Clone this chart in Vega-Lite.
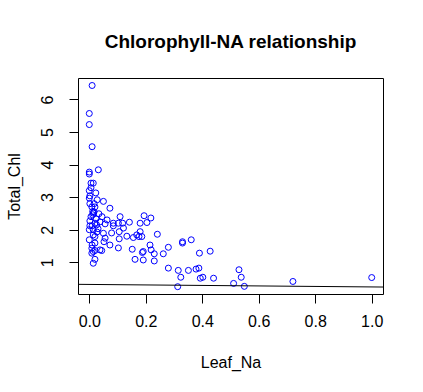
{
  "$schema": "https://vega.github.io/schema/vega-lite/v6.json",
  "width": 305,
  "height": 216,
  "autosize": {"type": "none"},
  "padding": {"left": 78, "top": 78, "right": 40, "bottom": 98},
  "background": "white",
  "config": {
    "font": "Liberation Sans",
    "view": {"stroke": "black", "strokeWidth": 1},
    "axis": {"grid": false, "domain": false, "tickColor": "black", "labelColor": "black", "titleColor": "black", "labelFont": "Liberation Sans", "titleFont": "Liberation Sans", "labelFontSize": 16, "titleFontSize": 16, "titleFontWeight": "normal", "tickSize": 9}
  },
  "title": {"text": "Chlorophyll-NA relationship", "fontSize": 19, "fontWeight": "bold", "font": "Liberation Sans", "color": "black", "offset": 26, "anchor": "middle"},
  "layer": [
    {
      "data": {"values": [
        {"Leaf_Na": 0.01, "Total_Chl": 6.43}, {"Leaf_Na": 0.0, "Total_Chl": 5.57}, {"Leaf_Na": 0.0, "Total_Chl": 5.23}, {"Leaf_Na": 0.01, "Total_Chl": 4.55},
        {"Leaf_Na": 0.032, "Total_Chl": 3.84}, {"Leaf_Na": 0.0, "Total_Chl": 3.77}, {"Leaf_Na": 0.0, "Total_Chl": 3.71}, {"Leaf_Na": 0.006, "Total_Chl": 3.43},
        {"Leaf_Na": 0.014, "Total_Chl": 3.43}, {"Leaf_Na": 0.023, "Total_Chl": 3.13}, {"Leaf_Na": 0.0, "Total_Chl": 3.2}, {"Leaf_Na": 0.0, "Total_Chl": 2.97},
        {"Leaf_Na": 0.028, "Total_Chl": 2.92}, {"Leaf_Na": 0.05, "Total_Chl": 2.87}, {"Leaf_Na": 0.002, "Total_Chl": 2.8}, {"Leaf_Na": 0.009, "Total_Chl": 2.7},
        {"Leaf_Na": 0.073, "Total_Chl": 2.66}, {"Leaf_Na": 0.012, "Total_Chl": 2.56}, {"Leaf_Na": 0.014, "Total_Chl": 2.51}, {"Leaf_Na": 0.012, "Total_Chl": 2.46},
        {"Leaf_Na": 0.017, "Total_Chl": 2.55}, {"Leaf_Na": 0.002, "Total_Chl": 2.27}, {"Leaf_Na": 0.02, "Total_Chl": 2.2}, {"Leaf_Na": 0.026, "Total_Chl": 2.15},
        {"Leaf_Na": 0.056, "Total_Chl": 2.18}, {"Leaf_Na": 0.085, "Total_Chl": 2.2}, {"Leaf_Na": 0.103, "Total_Chl": 2.2}, {"Leaf_Na": 0.085, "Total_Chl": 2.12},
        {"Leaf_Na": 0.109, "Total_Chl": 2.4}, {"Leaf_Na": 0.118, "Total_Chl": 2.2}, {"Leaf_Na": 0.142, "Total_Chl": 2.23}, {"Leaf_Na": 0.194, "Total_Chl": 2.43},
        {"Leaf_Na": 0.218, "Total_Chl": 2.36}, {"Leaf_Na": 0.204, "Total_Chl": 2.22}, {"Leaf_Na": 0.18, "Total_Chl": 2.2}, {"Leaf_Na": 0.0, "Total_Chl": 2.0},
        {"Leaf_Na": 0.014, "Total_Chl": 2.0}, {"Leaf_Na": 0.014, "Total_Chl": 1.84}, {"Leaf_Na": 0.02, "Total_Chl": 1.79}, {"Leaf_Na": 0.05, "Total_Chl": 1.89},
        {"Leaf_Na": 0.079, "Total_Chl": 1.9}, {"Leaf_Na": 0.106, "Total_Chl": 1.94}, {"Leaf_Na": 0.121, "Total_Chl": 2.05}, {"Leaf_Na": 0.133, "Total_Chl": 1.8},
        {"Leaf_Na": 0.156, "Total_Chl": 1.76}, {"Leaf_Na": 0.168, "Total_Chl": 1.84}, {"Leaf_Na": 0.176, "Total_Chl": 1.79}, {"Leaf_Na": 0.186, "Total_Chl": 1.79},
        {"Leaf_Na": 0.18, "Total_Chl": 1.94}, {"Leaf_Na": 0.241, "Total_Chl": 1.86}, {"Leaf_Na": 0.056, "Total_Chl": 1.74}, {"Leaf_Na": 0.052, "Total_Chl": 1.63},
        {"Leaf_Na": 0.02, "Total_Chl": 1.59}, {"Leaf_Na": 0.106, "Total_Chl": 1.72}, {"Leaf_Na": 0.073, "Total_Chl": 1.53}, {"Leaf_Na": 0.038, "Total_Chl": 1.38},
        {"Leaf_Na": 0.014, "Total_Chl": 1.33}, {"Leaf_Na": 0.009, "Total_Chl": 1.28}, {"Leaf_Na": 0.044, "Total_Chl": 1.36}, {"Leaf_Na": 0.103, "Total_Chl": 1.44},
        {"Leaf_Na": 0.152, "Total_Chl": 1.4}, {"Leaf_Na": 0.215, "Total_Chl": 1.53}, {"Leaf_Na": 0.219, "Total_Chl": 1.38}, {"Leaf_Na": 0.191, "Total_Chl": 1.33},
        {"Leaf_Na": 0.188, "Total_Chl": 1.3}, {"Leaf_Na": 0.23, "Total_Chl": 1.26}, {"Leaf_Na": 0.28, "Total_Chl": 1.46}, {"Leaf_Na": 0.262, "Total_Chl": 1.26},
        {"Leaf_Na": 0.33, "Total_Chl": 1.63}, {"Leaf_Na": 0.33, "Total_Chl": 1.59}, {"Leaf_Na": 0.361, "Total_Chl": 1.69}, {"Leaf_Na": 0.39, "Total_Chl": 1.28},
        {"Leaf_Na": 0.428, "Total_Chl": 1.34}, {"Leaf_Na": 0.162, "Total_Chl": 1.09}, {"Leaf_Na": 0.191, "Total_Chl": 1.07}, {"Leaf_Na": 0.23, "Total_Chl": 1.04},
        {"Leaf_Na": 0.014, "Total_Chl": 0.97}, {"Leaf_Na": 0.02, "Total_Chl": 1.09}, {"Leaf_Na": 0.28, "Total_Chl": 0.82}, {"Leaf_Na": 0.315, "Total_Chl": 0.75},
        {"Leaf_Na": 0.351, "Total_Chl": 0.75}, {"Leaf_Na": 0.378, "Total_Chl": 0.79}, {"Leaf_Na": 0.388, "Total_Chl": 0.82}, {"Leaf_Na": 0.324, "Total_Chl": 0.54},
        {"Leaf_Na": 0.393, "Total_Chl": 0.51}, {"Leaf_Na": 0.402, "Total_Chl": 0.54}, {"Leaf_Na": 0.44, "Total_Chl": 0.51}, {"Leaf_Na": 0.53, "Total_Chl": 0.77},
        {"Leaf_Na": 0.538, "Total_Chl": 0.54}, {"Leaf_Na": 0.511, "Total_Chl": 0.35}, {"Leaf_Na": 0.549, "Total_Chl": 0.26}, {"Leaf_Na": 0.313, "Total_Chl": 0.25},
        {"Leaf_Na": 0.721, "Total_Chl": 0.41}, {"Leaf_Na": 1.0, "Total_Chl": 0.53},
        {"Leaf_Na": 0.006, "Total_Chl": 3.29}, {"Leaf_Na": 0.002, "Total_Chl": 3.04}, {"Leaf_Na": 0.017, "Total_Chl": 2.8}, {"Leaf_Na": 0.02, "Total_Chl": 2.7},
        {"Leaf_Na": 0.006, "Total_Chl": 2.4}, {"Leaf_Na": 0.024, "Total_Chl": 2.33}, {"Leaf_Na": 0.01, "Total_Chl": 2.12}, {"Leaf_Na": 0.031, "Total_Chl": 2.03},
        {"Leaf_Na": 0.027, "Total_Chl": 1.93}, {"Leaf_Na": 0.038, "Total_Chl": 2.24}, {"Leaf_Na": 0.063, "Total_Chl": 2.3}, {"Leaf_Na": 0.034, "Total_Chl": 2.49},
        {"Leaf_Na": 0.045, "Total_Chl": 2.4}, {"Leaf_Na": 0.009, "Total_Chl": 1.43}, {"Leaf_Na": 0.02, "Total_Chl": 1.36}, {"Leaf_Na": 0.0, "Total_Chl": 1.69},
        {"Leaf_Na": 0.01, "Total_Chl": 1.53}, {"Leaf_Na": 0.002, "Total_Chl": 2.12}
      ]},
      "mark": {"type": "point", "shape": "circle", "filled": false, "stroke": "#0000FF", "strokeWidth": 1, "size": 36, "opacity": 1},
      "encoding": {
        "x": {"field": "Leaf_Na", "type": "quantitative", "scale": {"domain": [-0.04, 1.04], "nice": false, "zero": false},
              "axis": {"values": [0, 0.2, 0.4, 0.6, 0.8, 1.0], "format": ".1f", "labelPadding": 10, "title": "Leaf_Na", "titlePadding": 25}},
        "y": {"field": "Total_Chl", "type": "quantitative", "scale": {"domain": [0.025, 6.66], "nice": false, "zero": false},
              "axis": {"values": [1, 2, 3, 4, 5, 6], "labelAngle": -90, "labelAlign": "center", "labelBaseline": "bottom", "labelPadding": 14, "title": "Total_Chl", "titlePadding": 17}}
      }
    },
    {
      "data": {"values": [{"Leaf_Na": -0.04, "Total_Chl": 0.322}, {"Leaf_Na": 1.04, "Total_Chl": 0.239}]},
      "mark": {"type": "line", "color": "black", "strokeWidth": 1, "clip": true},
      "encoding": {
        "x": {"field": "Leaf_Na", "type": "quantitative"},
        "y": {"field": "Total_Chl", "type": "quantitative"}
      }
    }
  ]
}
